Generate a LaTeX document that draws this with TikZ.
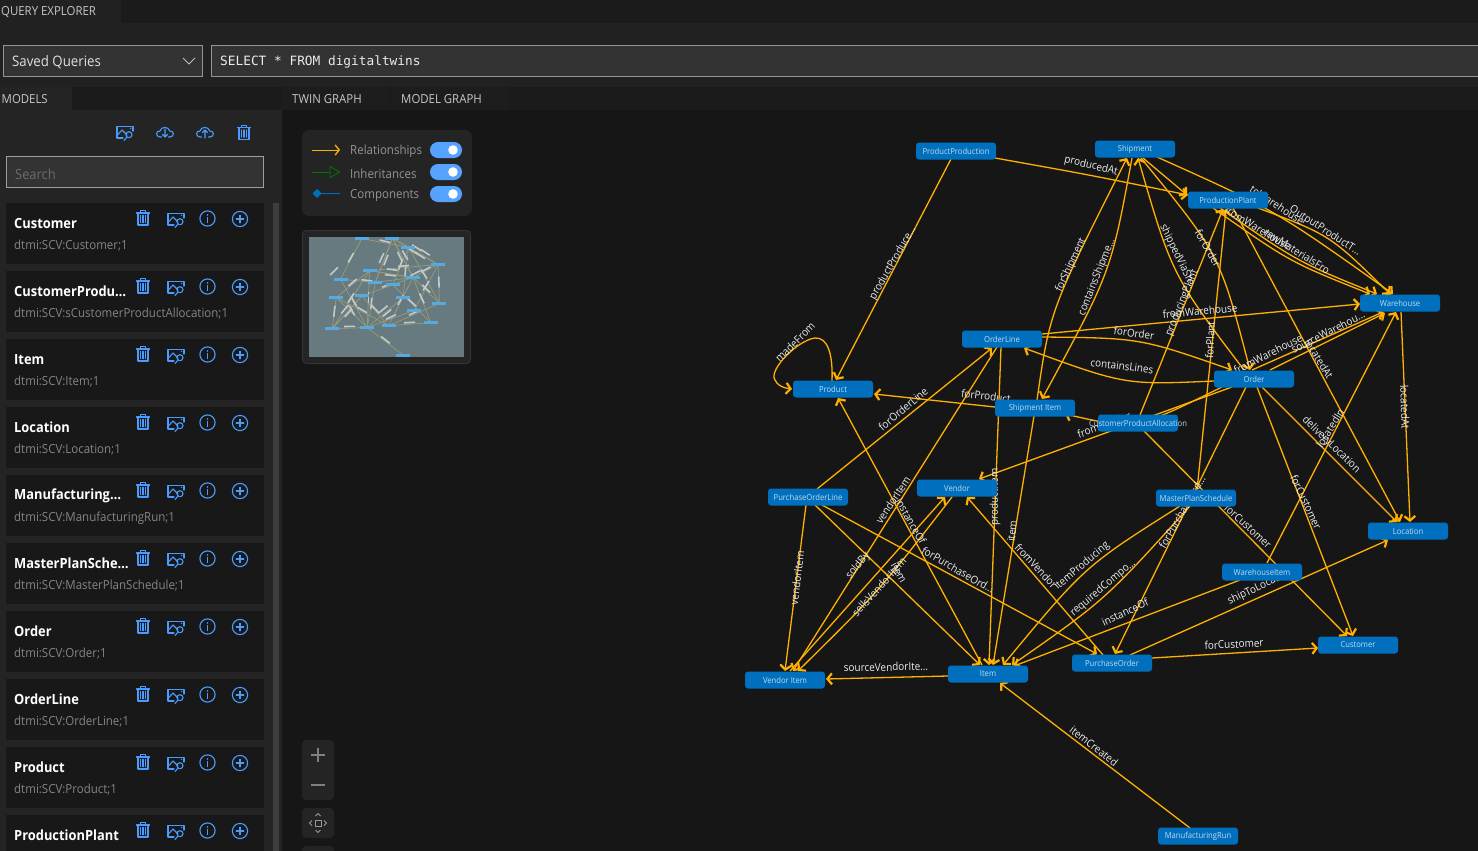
\documentclass[tikz,border=0pt]{standalone}
\usepackage{fontspec}
\setmainfont[FakeStretch=0.92]{Open Sans}
\newfontfamily\monof{DejaVu Sans Mono}
\usetikzlibrary{arrows.meta,calc}
\pgfdeclarelayer{uilayer}\pgfdeclarelayer{edgelayer}\pgfdeclarelayer{labellayer}
\pgfsetlayers{uilayer,edgelayer,labellayer,main}
\definecolor{relcol}{HTML}{FFB000}
\definecolor{nodeblue}{HTML}{0070BE}
\definecolor{iconblue}{HTML}{4A9BFF}
\definecolor{toggleblue}{HTML}{55A3FF}
\definecolor{graphbg}{HTML}{161616}
\definecolor{panelbg}{HTML}{242424}
\definecolor{cardbg}{HTML}{181818}
\definecolor{topbar}{HTML}{1B1B1B}
\definecolor{fieldbg}{HTML}{333333}
\definecolor{mapbg}{HTML}{677A80}
\definecolor{mapedge}{HTML}{9A9C78}
\definecolor{mapnode}{HTML}{55AADF}
\newcommand{\fs}[1]{\fontsize{#1}{#1}\selectfont}
\newcommand{\relE}[4]{\draw[rel] ([shift={(#2)}]#1.center) -- ([shift={(#4)}]#3.center);}
\newcommand{\relQ}[5]{\draw[rel] ([shift={(#2)}]#1.center) .. controls (#3) .. ([shift={(#5)}]#4.center);}
\def\gnodes{pp/956/151/ProductProduction, sh/1135/149/Shipment, pl/1228/200/ProductionPlant, wh/1400/303/Warehouse, ol/1002/339/OrderLine, or/1254/379/Order, pr/833/389/Product, si/1035/408/Shipment Item, cpa/1138/423/CustomerProductAllocation, ve/957/488/Vendor, pol/808/497/PurchaseOrderLine, mps/1196/498/MasterPlanSchedule, lo/1408/531/Location, wi/1262/572/WarehouseItem, cu/1358/645/Customer, po/1112/663/PurchaseOrder, it/988/674/Item, vi/785/680/Vendor Item, mr/1198/836/ManufacturingRun}
\def\elabels{893/263/60/productProduce\ldots, 1091/166/-13/producedAt, 795/342/45/madeFrom, 986/396/-7/forProduct, 1071/265/65/forShipment, 1097/277/68/containsShipme\ldots, 903/409/40/forOrderLine, 1200/311/5/fromWarehouse, 1134/333/-8/forOrder, 1122/366/-7/containsLines, 1178/257/-64/shippedViaSh\ldots, 1182/303/68/producingPlant, 1210/340/87/forPlant, 1208/248/-60/forOrder, 1277/205/-33/toWarehouse, 1325/231/-33/OutputProductT\ldots, 1258/228/-31/fromWarehouse, 1297/251/-32/rawMaterialsFro, 1268/354/27/fromWarehouse, 1328/332/27/sourceWarehou\ldots, 1319/359/-58/locatedAt, 1330/428/58/locatedIn, 1331/445/-44/deliveryLocation, 1405/407/-88/locatedAt, 1306/502/-65/forCustomer, 1248/526/-42/forCustomer, 1234/644/3/forCustomer, 1260/587/25/shipToLocation, 1182/512/60/forPurchaseOrd\ldots, 1082/566/40/itemProducing, 1103/588/40/requiredCompo\ldots, 1125/612/25/instanceOf, 1036/566/-47/fromVendor, 958/570/-30/forPurchaseOrd\ldots, 911/521/-60/instanceOf, 893/500/57/vendorItem, 858/566/50/soldBy, 879/587/48/sellsVendorItem, 899/573/-60/item, 797/578/83/vendorItem, 886/667/1/sourceVendorIte\ldots, 1094/746/-38/itemCreated, 995/497/90/productItem, 1012/531/85/item, 1104/425/20/fromVendor}
\def\mapedges{pp/pr,pp/pl,si/pr,si/sh,sh/si,pol/ol,ol/vi,pol/vi,vi/ve,ve/vi,ol/it,si/it,ol/wh,ol/or,or/ol,or/si,or/ve,cpa/pl,mps/pl,sh/or,or/sh,sh/pl,sh/wh,pl/wh,pl/lo,or/wh,wi/wh,wh/lo,or/po,or/cu,or/lo,cpa/cu,mps/it,wi/it,it/pr,pol/it,pol/po,po/ve,it/vi,mr/it,po/lo,po/cu}
\tikzset{
  gnode/.style={rectangle,rounded corners=3pt,fill=nodeblue,minimum width=80pt,minimum height=17pt,inner sep=0pt,text=white!75!nodeblue,font=\fs{8.3}},
  elabel/.style={inner sep=0pt,text=white!93!black,font=\fs{10.8}},
  rel/.style={draw=relcol,line width=1.3pt,-{Straight Barb[length=4.5pt,width=11pt,line width=2.2pt]}},
  ui/.style={inner sep=0pt,anchor=west,text=white!78!black},
  cardname/.style={ui,text=white,font=\fs{14}\bfseries},
  cardid/.style={ui,text=white!52!black,font=\fs{12.5}},
  ic/.style={draw=iconblue,line width=1.1pt,line cap=round,line join=round},
  trashic/.pic={
    \draw[ic] (-5,-4.5) rectangle (5,7.5);
    \draw[ic] (-6.5,-4.5) -- (6.5,-4.5);
    \draw[ic] (-2.4,-4.5) -- (-2.4,-6.8) -- (2.4,-6.8) -- (2.4,-4.5);
    \draw[ic] (-2.2,-2) -- (-2.2,5.2) (0,-2) -- (0,5.2) (2.2,-2) -- (2.2,5.2);
  },
  imgic/.pic={
    \draw[ic] (-2,6) -- (-8,6) -- (-8,-5.5) -- (8,-5.5) -- (8,-1);
    \draw[ic] (-8,3.5) -- (-3,-2) -- (2,3);
    \fill[iconblue] (5.5,-3.6) circle (.8);
    \draw[ic] (4,2.7) circle (3);
    \draw[ic] (2,5) -- (-1,8.5);
  },
  infoic/.pic={
    \draw[ic] (0,0) circle (7.6);
    \draw[ic,line width=1.3pt] (0,-1) -- (0,4);
    \fill[iconblue] (0,-3.6) circle (.9);
  },
  plusic/.pic={
    \draw[ic] (0,0) circle (7.6);
    \draw[ic,line width=1.7pt] (-3.6,0) -- (3.6,0) (0,-3.6) -- (0,3.6);
  },
  cloudic/.pic={
    \draw[ic] (-3.5,4) -- (-5,4) .. controls (-9.5,4) and (-9.5,-2.5) .. (-5,-2) .. controls (-4,-6.8) and (3.5,-6.8) .. (4.8,-2) .. controls (9.5,-2.5) and (9.5,4) .. (5,4) -- (3.5,4);
  }
}
\begin{document}
\begin{tikzpicture}[x=1pt,y=-1pt]
\useasboundingbox (0,0) rectangle (1478,851);
\begin{pgfonlayer}{uilayer}
  % page bands
  \fill[panelbg!92!black] (0,0) rectangle (1478,851);
  \fill[topbar] (0,0) rectangle (1478,23);
  \fill[panelbg!92!black] (0,0) rectangle (121,23);
  \node[ui,font=\fs{12.4}] (tabQuery) at (1,12) {QUERY EXPLORER};
  % query row
  \draw[draw=white!58!black,fill=fieldbg,line width=1pt] (3.5,45.5) rectangle (202.5,76.5);
  \node[ui,text=white!88!black,font=\fs{14.4}] (saved) at (12,62) {Saved Queries};
  \draw[draw=white!75!black,line width=1pt] (183,58) -- (189,64) -- (195,58);
  \draw[draw=white!58!black,fill=fieldbg,line width=1pt] (211.5,45.5) rectangle (1485,76.5);
  \node[ui,text=white!92!black,font=\monof\fs{12.8}] (query) at (220,61.5) {SELECT * FROM digitaltwins};
  % tab bars
  \fill[topbar] (0,87) rectangle (1478,110);
  \fill[panelbg] (0,87) rectangle (72,110);
  \fill[panelbg!80!black] (282,87) rectangle (389,110);
  \fill[panelbg!80!black] (391,87) rectangle (507,110);
  \node[ui,font=\fs{12.4}] (tabModels) at (1.5,99) {MODELS};
  \node[ui,font=\fs{12.4}] (tabTwin) at (292,99) {TWIN GRAPH};
  \node[ui,font=\fs{12.4}] (tabModel) at (401,99) {MODEL GRAPH};
  % panels
  \fill[panelbg] (0,110) rectangle (281,851);
  \fill[graphbg] (282,110) rectangle (1478,851);
  \pic at (125,132) {imgic};
  \pic at (165,133) {cloudic};
  \draw[ic] (165,129) -- (165,137) (162.5,134.5) -- (165,137) -- (167.5,134.5);
  \pic at (205,133) {cloudic};
  \draw[ic] (205,130) -- (205,138) (202.5,132.5) -- (205,130) -- (207.5,132.5);
  \pic at (244,132) {trashic};
  \draw[draw=white!62!black,fill=fieldbg,line width=1pt] (6.5,156.5) rectangle (263.5,187.5);
  \node[ui,text=white!42!black,font=\fs{14}] (search) at (15,174) {Search};
  % scrollbar
  \fill[panelbg!88!white] (273,203) rectangle (279,851);
  \fill[white!24!black] (273,203) rectangle (279,563);
  % cards
  \foreach \i/\nm/\id in {0/Customer/dtmi:SCV:Customer;1, 1/CustomerProdu\ldots/dtmi:SCV:sCustomerProductAllocation;1, 2/Item/dtmi:SCV:Item;1, 3/Location/dtmi:SCV:Location;1, 4/Manufacturing\ldots/dtmi:SCV:ManufacturingRun;1, 5/MasterPlanSche\ldots/dtmi:SCV:MasterPlanSchedule;1, 6/Order/dtmi:SCV:Order;1, 7/OrderLine/dtmi:SCV:OrderLine;1, 8/Product/dtmi:SCV:Product;1, 9/ProductionPlant/{}}{
    \pgfmathsetmacro{\yy}{203+68*\i}
    \fill[cardbg] (6,\yy) rectangle (264,\yy+61);
    \node[cardname] (card\i) at (14,\yy+20.5) {\nm};
    \node[cardid] (cardid\i) at (14,\yy+43) {\id};
    \pic at (143,\yy+14.5) {trashic};
    \pic at (176,\yy+16) {imgic};
    \pic at (207.5,\yy+15.5) {infoic};
    \pic at (240,\yy+16) {plusic};
  }
  % legend
  \fill[panelbg,rounded corners=7pt] (302,130) rectangle (472,216);
  \draw[relcol,line width=1pt,-{Straight Barb[length=4pt,width=10pt,line width=1.3pt]}] (312,150) -- (340,150);
  \draw[green!45!black,line width=.9pt] (312,172) -- (330,172);
  \draw[green!45!black,line width=.9pt] (330,166.5) -- (339.5,172) -- (330,177.5) -- cycle;
  \draw[nodeblue,line width=1pt] (320,193.5) -- (340,193.5);
  \fill[nodeblue] (312.5,193.5) -- (317,189) -- (321.5,193.5) -- (317,198) -- cycle;
  \node[ui,text=white!58!black,font=\fs{12.5}] (legR) at (350,151.5) {Relationships};
  \node[ui,text=white!58!black,font=\fs{12.5}] (legI) at (350,173.5) {Inheritances};
  \node[ui,text=white!58!black,font=\fs{12.5}] (legC) at (350,195.5) {Components};
  \foreach \yy in {150,172,194}{
    \fill[toggleblue,rounded corners=7.9pt] (430,\yy-8) rectangle (462,\yy+8);
    \fill[white] (453,\yy) circle (4.8);
  }
  % minimap
  \draw[draw=white!20!black,fill=panelbg,rounded corners=4pt,line width=1pt] (302.5,230.5) rectangle (470.5,363.5);
  \fill[mapbg] (309,237) rectangle (464,357);
  \foreach \n/\x/\y/\t in \gnodes {
    \coordinate (m\n) at ({361.7+(\x-956)*.172},{238.7+(\y-151)*.17});
  }
  \foreach \a/\b in \mapedges { \draw[mapedge,line width=.7pt] (m\a) -- (m\b); }
  \foreach \x/\y/\r/\t in \elabels {
    \fill[white!60!mapbg,rotate around={\r:({361.7+(\x-956)*.172},{238.7+(\y-151)*.17})}] ({361.7+(\x-956)*.172-5.5},{238.7+(\y-151)*.17-.8}) rectangle ({361.7+(\x-956)*.172+5.5},{238.7+(\y-151)*.17+.8});
  }
  \foreach \n/\x/\y/\t in \gnodes {
    \fill[mapnode] ({361.7+(\x-956)*.172-7},{238.7+(\y-151)*.17-1.5}) rectangle ({361.7+(\x-956)*.172+7},{238.7+(\y-151)*.17+1.5});
  }
  % zoom controls
  \fill[panelbg,rounded corners=4pt] (302,740) rectangle (334,800);
  \draw[white!50!black,line width=1.2pt] (311,755) -- (325,755) (318,748) -- (318,762);
  \draw[white!50!black,line width=1.2pt] (311,785) -- (325,785);
  \fill[panelbg,rounded corners=4pt] (302,808) rectangle (334,838);
  \draw[white!60!black,line width=1pt] (315,820) rectangle (321,826);
  \draw[white!60!black,line width=1pt] (315.5,816) -- (318,813.5) -- (320.5,816) (315.5,830) -- (318,832.5) -- (320.5,830) (312,820.5) -- (309.5,823) -- (312,825.5) (324,820.5) -- (326.5,823) -- (324,825.5);
  \fill[panelbg,rounded corners=4pt] (302,846) rectangle (334,870);
\end{pgfonlayer}

% graph nodes
\foreach \n/\x/\y/\t in \gnodes {
  \node[gnode] (\n) at (\x,\y) {\makebox[0pt]{\t}};
}

% edge labels
\begin{pgfonlayer}{labellayer}
  \foreach \x/\y/\r/\t in \elabels {
    \node[elabel,rotate=\r] (lab\x-\y) at (\x,\y) {\t};
  }
\end{pgfonlayer}

% connectors
\begin{pgfonlayer}{edgelayer}
  \relE{pp}{-5,8}{pr}{3,-9}
  \relQ{pp}{39,7}{1090,175}{pl}{-40,-5}
  \draw[rel] ([shift={(-1,-8)}]pr.center) .. controls (833,355) and (828,337) .. (815,338) .. controls (798,340) and (768,370) .. (775,380) .. controls (777,385) and (783,388) .. ([shift={(-41,0)}]pr.center);
  \relE{si}{-40,-1}{pr}{41,5}
  \relQ{si}{2,-8}{1050,310}{sh}{-8,9}
  \relQ{sh}{-3,9}{1111,272}{si}{7,-9}
  \relE{pol}{9,-8}{ol}{-10,9}
  \relE{ol}{-5,8}{vi}{8,-9}
  \relE{pol}{-2,8}{vi}{0,-9}
  \relE{vi}{5,-9}{ve}{-12,9}
  \relQ{ve}{-5,9}{880,590}{vi}{13,-9}
  \relE{ol}{-1,8}{it}{1,-9}
  \relE{si}{-1,8}{it}{5,-9}
  \relE{ol}{40,-5}{wh}{-40,1}
  \relQ{ol}{40,-2}{1140,338}{or}{-22,-9}
  \relQ{or}{-40,2}{1125,385}{ol}{22,9}
  \relQ{or}{-32,8}{1135,430}{si}{30,6}
  \relE{or}{-22,8}{ve}{22,-9}
  \relE{cpa}{2,-8}{pl}{-5,9}
  \relE{mps}{1,-8}{pl}{-2,9}
  \relQ{sh}{6,9}{1220,255}{or}{-4,-9}
  \relQ{or}{-10,-9}{1172,275}{sh}{3,9}
  \relE{sh}{8,9}{pl}{-41,-5}
  \relQ{sh}{22,8}{1275,210}{wh}{-7,-9}
  \relQ{pl}{-15,8}{1290,262}{wh}{-30,-9}
  \relQ{pl}{-8,8}{1298,262}{wh}{-23,-9}
  \relQ{pl}{30,8}{1330,235}{wh}{-10,-9}
  \relE{pl}{5,8}{lo}{-8,-9}
  \relE{or}{-2,-9}{wh}{-17,9}
  \relE{or}{16,-9}{wh}{-15,10}
  \relE{wi}{5,-9}{wh}{-4,9}
  \relE{wh}{1,9}{lo}{2,-9}
  \relE{or}{-8,8}{po}{3,-9}
  \relE{or}{3,8}{cu}{-5,-9}
  \relE{or}{8,8}{lo}{-11,-9}
  \relE{cpa}{6,8}{cu}{-11,-9}
  \relQ{mps}{-16,8}{1085,566}{it}{15,-9}
  \relQ{mps}{-6,8}{1105,600}{it}{24,-9}
  \relE{wi}{-22,8}{it}{26,-8}
  \relE{it}{-6,-9}{pr}{5,9}
  \relE{pol}{7,8}{it}{-8,-9}
  \relE{pol}{14,8}{po}{-15,-9}
  \relE{po}{-9,-8}{ve}{10,9}
  \relE{it}{-40,2}{vi}{41,-1}
  \relE{mr}{-8,-8}{it}{12,9}
  \relE{po}{18,-8}{lo}{-20,9}
  \relE{po}{40,-5}{cu}{-40,3}
\end{pgfonlayer}
\end{tikzpicture}
\end{document}
